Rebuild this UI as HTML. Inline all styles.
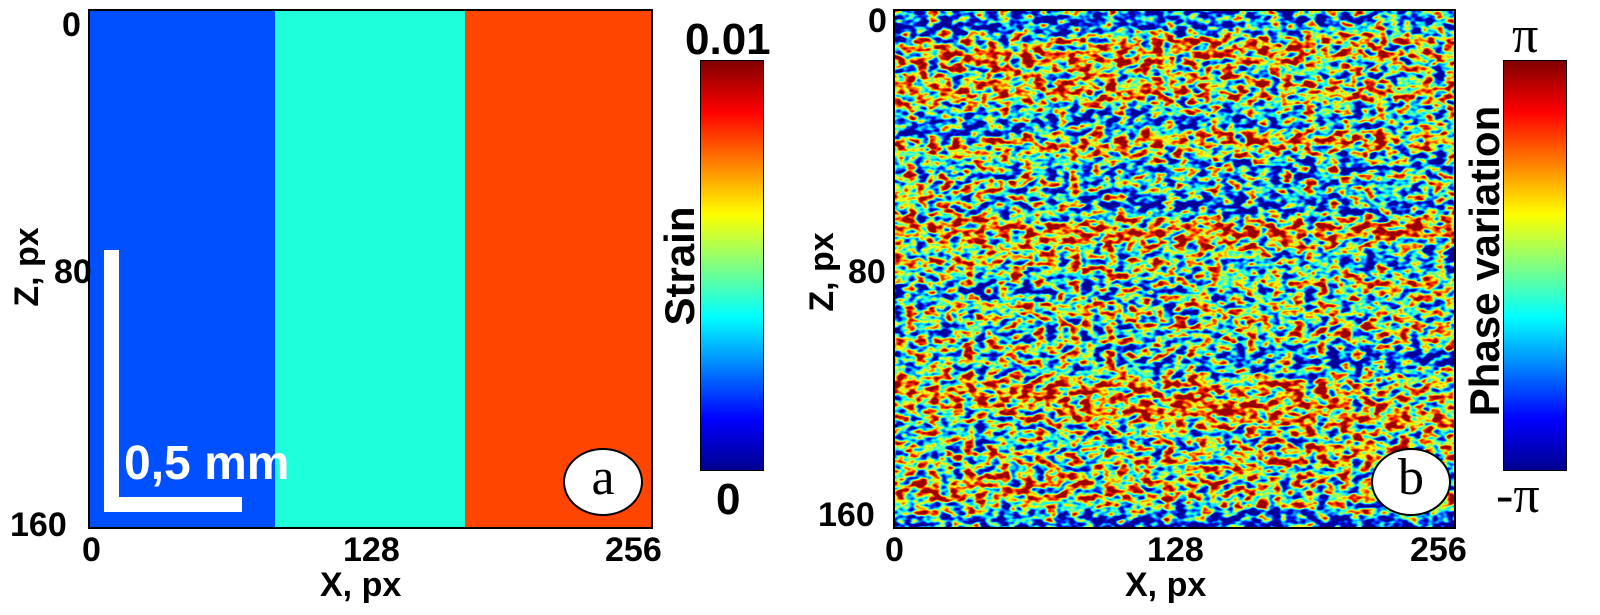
<!DOCTYPE html>
<html><head><meta charset="utf-8"><style>
body{margin:0;width:1600px;height:615px;background:#fff;overflow:hidden;position:relative;font-family:"Liberation Sans",sans-serif;font-weight:bold;color:#000}
.a{position:absolute}
.t{position:absolute;font-size:34px;line-height:1}
.jet{background:linear-gradient(to top,#00008f 0%,#0000ff 12.5%,#0080ff 25%,#00ffff 37.5%,#80ff80 50%,#ffff00 62.5%,#ff8000 75%,#ff0000 87.5%,#800000 100%);border:1.5px solid #000;box-sizing:border-box}
.circ{position:absolute;width:76px;height:64px;border:2px solid #000;border-radius:50%;background:#fff;font-family:"Liberation Serif",serif;font-weight:normal;font-size:52px;text-align:center;line-height:56px}
</style></head><body>
<!-- panel a -->
<div class="a" style="left:88px;top:9px;width:565px;height:520px;border:2px solid #000;box-sizing:border-box;overflow:hidden">
 <div class="a" style="left:0;top:0;width:185px;height:520px;background:#0050ff"></div>
 <div class="a" style="left:185px;top:0;width:190px;height:520px;background:#1effdc"></div>
 <div class="a" style="left:375px;top:0;width:190px;height:520px;background:#ff4500"></div>
</div>
<div class="a" style="left:104px;top:250px;width:15px;height:262px;background:#fff"></div>
<div class="a" style="left:104px;top:497px;width:138px;height:15px;background:#fff"></div>
<div class="t" style="left:124px;top:440px;font-size:48px;color:#fff">0,5 mm</div>
<div class="circ" style="left:563px;top:448px">a</div>
<div class="t" style="left:62px;top:8px">0</div>
<div class="t" style="left:54px;top:255px">80</div>
<div class="t" style="left:10px;top:508px">160</div>
<div class="t" style="left:82px;top:533px">0</div>
<div class="t" style="left:343px;top:533px">128</div>
<div class="t" style="left:605px;top:533px">256</div>
<div class="t" style="left:320px;top:568px">X, px</div>
<div class="t" style="left:-28px;top:250px;transform:rotate(-90deg);transform-origin:center;width:110px;text-align:center">Z, px</div>
<div class="a jet" style="left:700px;top:60px;width:64px;height:411px"></div>
<div class="t" style="left:685px;top:18px;font-size:44px">0.01</div>
<div class="t" style="left:716px;top:478px;font-size:44px">0</div>
<div class="t" style="left:610px;top:245px;font-size:42px;transform:rotate(-90deg);width:140px;text-align:center">Strain</div>
<!-- panel b -->
<svg class="a" style="left:893px;top:9px" width="563" height="520">
<defs>
<filter id="f" x="0" y="0" width="100%" height="100%" color-interpolation-filters="sRGB">
<feTurbulence type="fractalNoise" baseFrequency="0.085 0.14" numOctaves="2" seed="4" result="n0"/>
<feColorMatrix in="n0" type="matrix" values="1 0 0 0 0 1 0 0 0 0 1 0 0 0 0 0 0 0 0 1" result="n"/>
<feTurbulence type="fractalNoise" baseFrequency="0.0015 0.03" numOctaves="1" seed="9" result="s0"/>
<feColorMatrix in="s0" type="matrix" values="1 0 0 0 0 1 0 0 0 0 1 0 0 0 0 0 0 0 0 1" result="s"/>
<feComposite in="n" in2="s" operator="arithmetic" k2="0.75" k3="0.45" k4="-0.1"/>
<feComponentTransfer><feFuncR type="linear" slope="3" intercept="-1"/><feFuncG type="linear" slope="3" intercept="-1"/><feFuncB type="linear" slope="3" intercept="-1"/></feComponentTransfer>
<feComponentTransfer>
<feFuncR type="table" tableValues="0 0 0 0 0.5 1 1 1 0.6"/>
<feFuncG type="table" tableValues="0 0.1 0.5 1 1 1 0.5 0.1 0"/>
<feFuncB type="table" tableValues="0.6 1 1 1 0.5 0 0 0 0"/>
<feFuncA type="table" tableValues="1 1"/>
</feComponentTransfer>
</filter></defs>
<rect width="563" height="520" filter="url(#f)"/>
<rect x="1" y="1" width="561" height="518" fill="none" stroke="#000" stroke-width="2"/>
</svg>
<div class="circ" style="left:1371px;top:448px">b</div>
<div class="t" style="left:868px;top:4px">0</div>
<div class="t" style="left:848px;top:255px">80</div>
<div class="t" style="left:818px;top:498px">160</div>
<div class="t" style="left:885px;top:533px">0</div>
<div class="t" style="left:1147px;top:533px">128</div>
<div class="t" style="left:1410px;top:533px">256</div>
<div class="t" style="left:1125px;top:568px">X, px</div>
<div class="t" style="left:767px;top:255px;transform:rotate(-90deg);width:110px;text-align:center">Z, px</div>
<div class="a jet" style="left:1503px;top:60px;width:64px;height:411px"></div>
<div class="t" style="left:1512px;top:10px;font-size:52px;font-family:'Liberation Serif',serif;font-weight:normal">π</div>
<div class="t" style="left:1496px;top:470px;font-size:52px;font-family:'Liberation Serif',serif;font-weight:normal">-π</div>
<div class="t" style="left:1320px;top:240px;font-size:42px;transform:rotate(-90deg);width:330px;text-align:center">Phase variation</div>
</body></html>
